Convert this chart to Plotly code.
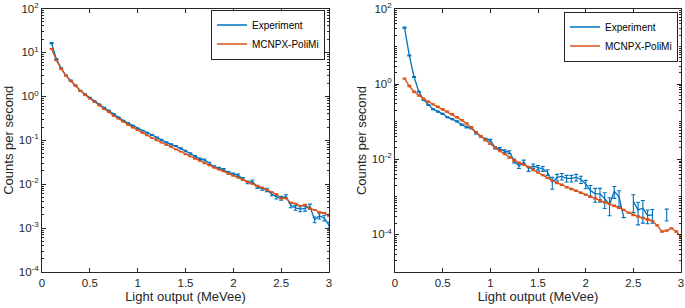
import plotly.graph_objects as go

# ---------------- data ----------------
x_bins = [round(0.10 + 0.05 * i, 2) for i in range(59)]

left_exp = [16.2, 7.1, 4.4, 3.0, 2.3, 1.78, 1.35, 1.12, 0.93, 0.78,
            0.65, 0.55, 0.47, 0.39, 0.33, 0.28, 0.245, 0.214, 0.186, 0.166,
            0.148, 0.132, 0.115, 0.102, 0.089, 0.081, 0.074, 0.065, 0.057, 0.050,
            0.043, 0.038, 0.0355, 0.030, 0.025, 0.023, 0.0214, 0.0182, 0.017, 0.0158,
            0.0132, 0.011, 0.0115, 0.0087, 0.0079, 0.0074, 0.006, 0.0051, 0.0048, 0.0052,
            0.0033, 0.0029, 0.0027, 0.0028, 0.0031, 0.00155, 0.0019, 0.0017, 0.00115]
left_exp_relerr = [0.03, 0.02, 0.02, 0.02, 0.02, 0.02, 0.02, 0.02, 0.02, 0.02,
                   0.02, 0.02, 0.02, 0.02, 0.02, 0.02, 0.02, 0.02, 0.02, 0.02,
                   0.02, 0.02, 0.03, 0.03, 0.03, 0.03, 0.03, 0.03, 0.04, 0.04,
                   0.04, 0.04, 0.05, 0.05, 0.05, 0.05, 0.06, 0.06, 0.06, 0.07,
                   0.07, 0.07, 0.08, 0.08, 0.08, 0.09, 0.09, 0.1, 0.1, 0.1,
                   0.12, 0.12, 0.13, 0.13, 0.13, 0.15, 0.15, 0.15, 0.18]
left_sim = [12.0, 6.6, 4.2, 2.95, 2.24, 1.74, 1.32, 1.07, 0.89, 0.74,
            0.62, 0.51, 0.44, 0.36, 0.31, 0.263, 0.224, 0.195, 0.17, 0.148,
            0.129, 0.112, 0.1, 0.089, 0.079, 0.071, 0.062, 0.055, 0.048, 0.043,
            0.038, 0.034, 0.030, 0.027, 0.024, 0.0214, 0.0195, 0.0174, 0.0155, 0.0141,
            0.0126, 0.0112, 0.0102, 0.0091, 0.0083, 0.0074, 0.0066, 0.0059, 0.0047, 0.0048,
            0.0038, 0.0036, 0.0032, 0.0034, 0.0028, 0.0026, 0.0023, 0.0022, 0.0019]

right_exp = [32.0, 5.8, 1.55, 0.63, 0.38, 0.28, 0.214, 0.186, 0.162, 0.132,
             0.117, 0.102, 0.083, 0.072, 0.068, 0.050, 0.041, 0.034, 0.032, 0.0204,
             0.019, 0.0166, 0.0155, 0.0091, 0.0066, 0.0085, 0.0056, 0.0066, 0.006, 0.0056,
             0.0045, 0.00245, 0.0033, 0.0035, 0.0031, 0.0031, 0.0033, 0.0029, 0.0022, 0.00148,
             0.0012, 0.0012, 0.00089, 0.00063, 0.0014, 0.001, 0.00028, None, 0.00076, 0.00045,
             0.0005, 0.00032, 0.00033, None, None, 0.00035, None, None, None]
right_exp_relerr = [0.03, 0.03, 0.03, 0.03, 0.03, 0.03, 0.03, 0.03, 0.03, 0.03,
                    0.04, 0.04, 0.04, 0.05, 0.05, 0.05, 0.05, 0.06, 0.06, 0.07,
                    0.08, 0.08, 0.09, 0.12, 0.14, 0.12, 0.15, 0.14, 0.14, 0.15,
                    0.17, 0.35, 0.2, 0.2, 0.2, 0.2, 0.2, 0.22, 0.25, 0.35,
                    0.4, 0.4, 0.45, 0.5, 0.35, 0.45, 0.0, 0.0, 0.5, 0.6,
                    0.6, 0.4, 0.4, 0.0, 0.0, 0.35, 0.0, 0.0, 0.0]
right_sim = [1.4, 0.89, 0.63, 0.50, 0.41, 0.34, 0.29, 0.25, 0.215, 0.186,
             0.158, 0.132, 0.11, 0.09, 0.071, 0.053, 0.041, 0.032, 0.026, 0.0204,
             0.0166, 0.0138, 0.0112, 0.0093, 0.0081, 0.0072, 0.0063, 0.0052, 0.0045, 0.0038,
             0.0032, 0.0027, 0.00234, 0.0021, 0.0018, 0.00162, 0.00145, 0.00129, 0.00115, 0.00102,
             0.00091, 0.00081, 0.00072, 0.00065, 0.00058, 0.00051, 0.00045, 0.00038, 0.00033, 0.0003,
             0.000275, 0.00025, 0.00023, 0.000174, 0.00012, 0.000126, 0.000145, 0.00012, 0.000087]

x_tick_vals = [0, 0.5, 1, 1.5, 2, 2.5, 3]
x_tick_text = ["0", "0.5", "1", "1.5", "2", "2.5", "3"]
left_y_decades = [-4, -3, -2, -1, 0, 1, 2]
right_y_decades = [-4, -2, 0, 2]

BLUE = "#0072BD"
RED = "#D95319"
FONT = "Liberation Sans, Arial, Helvetica, sans-serif"
AX = "#262626"
W, H = 685, 308


def px_x(p):
    return p / W


def px_y(p):
    return 1 - p / H


def abs_err(vals, rel):
    return [(v * r if v is not None else 0) for v, r in zip(vals, rel)]


fig = go.Figure()

fig.add_trace(go.Scatter(
    x=x_bins, y=left_exp, mode="lines", name="Experiment",
    line=dict(color=BLUE, width=1.3),
    error_y=dict(type="data", array=abs_err(left_exp, left_exp_relerr), color=BLUE, thickness=1.1, width=2),
    xaxis="x", yaxis="y", legend="legend"))
fig.add_trace(go.Scatter(
    x=x_bins, y=left_sim, mode="lines", name="MCNPX-PoliMi",
    line=dict(color=RED, width=1.3),
    error_y=dict(type="percent", value=2, color=RED, thickness=1.1, width=2),
    xaxis="x", yaxis="y", legend="legend"))

fig.add_trace(go.Scatter(
    x=x_bins, y=right_exp, mode="lines", name="Experiment",
    line=dict(color=BLUE, width=1.3), connectgaps=False,
    error_y=dict(type="data", array=abs_err(right_exp, right_exp_relerr), color=BLUE, thickness=1.1, width=2),
    xaxis="x2", yaxis="y2", legend="legend2"))
fig.add_trace(go.Scatter(
    x=x_bins, y=right_sim, mode="lines", name="MCNPX-PoliMi",
    line=dict(color=RED, width=1.3),
    error_y=dict(type="percent", value=4, color=RED, thickness=1.1, width=2),
    xaxis="x2", yaxis="y2", legend="legend2"))


def minor_vals(lo, hi):
    out = []
    for d in range(lo, hi):
        for m in range(2, 10):
            out.append(m * 10 ** d)
    return out


def sup_label(d):
    return "10<sup>%d</sup>" % d


xaxis_common = dict(
    range=[0, 3], tickvals=x_tick_vals, ticktext=x_tick_text,
    ticks="inside", ticklen=4, tickcolor=AX, tickwidth=1,
    showline=True, linecolor=AX, linewidth=1, mirror="ticks",
    showgrid=False, zeroline=False, automargin=False,
    tickfont=dict(family=FONT, size=11.5, color=AX),
    title=dict(text="Light output (MeVee)", font=dict(family=FONT, size=13, color=AX), standoff=2),
)

yaxis_common = dict(
    type="log", ticks="inside", ticklen=4, tickcolor=AX, tickwidth=1,
    showline=True, linecolor=AX, linewidth=1, mirror="ticks",
    showgrid=False, zeroline=False, automargin=False, ticklabeloverflow="allow",
    tickfont=dict(family=FONT, size=11.5, color=AX),
    title=dict(text="Counts per second", font=dict(family=FONT, size=13, color=AX), standoff=2),
)

fig.update_layout(
    width=W, height=H,
    margin=dict(l=0, r=0, t=0, b=0),
    paper_bgcolor="white", plot_bgcolor="white",
    font=dict(family=FONT, color=AX),
    xaxis=dict(domain=[px_x(42), px_x(329)], anchor="y", **xaxis_common),
    yaxis=dict(domain=[px_y(272), px_y(8.5)], anchor="x", range=[-4, 2],
               tickvals=[10 ** d for d in left_y_decades],
               ticktext=[sup_label(d) for d in left_y_decades],
               minor=dict(ticks="inside", ticklen=2, tickcolor=AX,
                          tickvals=minor_vals(-4, 2)),
               **yaxis_common),
    xaxis2=dict(domain=[px_x(395), px_x(681)], anchor="y2", **xaxis_common),
    yaxis2=dict(domain=[px_y(272), px_y(9)], anchor="x2", range=[-5, 2],
                tickvals=[10 ** d for d in right_y_decades],
                ticktext=[sup_label(d) for d in right_y_decades],
                minor=dict(ticks="inside", ticklen=2, tickcolor=AX,
                           tickvals=[10 ** d for d in range(-5, 2)] + minor_vals(-5, 2)),
                **yaxis_common),
    legend=dict(x=px_x(325), y=px_y(9.5), xanchor="right", yanchor="top",
                bgcolor="white", bordercolor=AX, borderwidth=1,
                font=dict(family=FONT, size=10, color="black"),
                tracegroupgap=0, itemwidth=30),
    legend2=dict(x=px_x(678), y=px_y(11.5), xanchor="right", yanchor="top",
                 bgcolor="white", bordercolor=AX, borderwidth=1,
                 font=dict(family=FONT, size=10, color="black"),
                 tracegroupgap=0, itemwidth=30),
    showlegend=True,
)

# remove the browser's default 8px body margin so the 685x308 figure fills the window
fig.write_html("out.html", config={"displayModeBar": False},
               post_script="document.body.style.margin='0px';")
